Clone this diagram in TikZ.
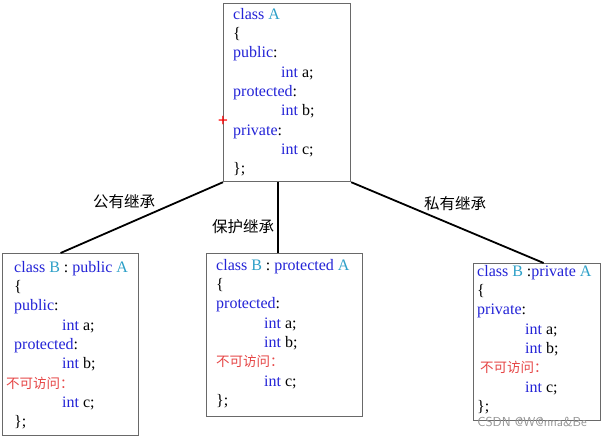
\documentclass[tikz,border=0pt]{standalone}
\usepackage{fontspec}
\setmainfont{Liberation Serif}
\newfontfamily\cjk{Noto Sans CJK SC}
\usetikzlibrary{positioning}

\definecolor{kwblue}{RGB}{35,35,215}
\definecolor{clsteal}{RGB}{45,160,200}
\definecolor{warnred}{RGB}{230,70,70}
\definecolor{boxgray}{RGB}{105,105,105}

\newcommand{\kw}[1]{\textcolor{kwblue}{#1}}
\newcommand{\cl}[1]{\textcolor{clsteal}{#1}}
\newcommand{\ind}{\hspace*{3em}}
\newcommand{\noaccess}{\textcolor{warnred}{\cjk\fontsize{13.5}{19}\selectfont 不可访问：}}

\tikzset{
  classbox/.style={draw=boxgray, line width=1.2pt, fill=white, anchor=north west, inner sep=0pt},
  code/.style={anchor=north west, inner sep=0pt, align=left, font=\fontsize{16}{19.3}\selectfont},
  inherit/.style={line width=1.8pt},
  kind/.style={font=\cjk\fontsize{15.5}{18}\selectfont}
}

\begin{document}
\begin{tikzpicture}[x=1pt,y=-1pt]
\useasboundingbox (0,0) rectangle (602,438);

% Boxes
\node[classbox, minimum width=127pt, minimum height=178pt] (clsA) at (223,3) {};
\node[classbox, minimum width=136pt, minimum height=182pt] (pubB) at (2,253) {};
\node[classbox, minimum width=156pt, minimum height=163pt] (protB) at (206,253) {};
\node[classbox, minimum width=127pt, minimum height=157pt] (privB) at (473,263) {};

% Base class
\node[code] (clsAtext) at (233,8) {\kw{class} \cl{A}\\
\{\\
\kw{public}:\\
\ind\kw{int} a;\\
\kw{protected}:\\
\ind\kw{int} b;\\
\kw{private}:\\
\ind\kw{int} c;\\
\};};

% Derived classes
\node[code] (pubBtext) at (14,261) {\kw{class} \cl{B} : \kw{public} \cl{A}\\
\{\\
\kw{public}:\\
\ind\kw{int} a;\\
\kw{protected}:\\
\ind\kw{int} b;\\
\hspace*{-8pt}\noaccess\\
\ind\kw{int} c;\\
\};};

\node[code] (protBtext) at (216,259) {\kw{class} \cl{B} : \kw{protected} \cl{A}\\
\{\\
\kw{protected}:\\
\ind\kw{int} a;\\
\ind\kw{int} b;\\
\noaccess\\
\ind\kw{int} c;\\
\};};

\node[code] (privBtext) at (477,265) {\kw{class} \cl{B} :\kw{private} \cl{A}\\
\{\\
\kw{private}:\\
\ind\kw{int} a;\\
\ind\kw{int} b;\\
\hspace*{3pt}\noaccess\\
\ind\kw{int} c;\\
\};};

% Inheritance lines
\draw[inherit] (clsA.south west) -- ([xshift=-10pt]pubB.north);
\draw[inherit] ([xshift=-9.5pt]clsA.south) -- ([xshift=-7pt]protB.north);
\draw[inherit] (clsA.south east) -- ([xshift=6.5pt]privB.north);

\node[kind] (pubkind) at (124,202) {公有继承};
\node[kind] (protkind) at (243,227) {保护继承};
\node[kind] (privkind) at (455,204) {私有继承};

% marker and watermark
\node[text=red, font=\bfseries\fontsize{18}{18}\selectfont, inner sep=0pt] (mark) at (223,121) {+};
\node[text=gray!85, font=\sffamily\fontsize{13}{14}\selectfont, anchor=east, inner sep=0pt] (wm) at (587,422) {CSDN @W@nna\&Be};
\end{tikzpicture}
\end{document}
